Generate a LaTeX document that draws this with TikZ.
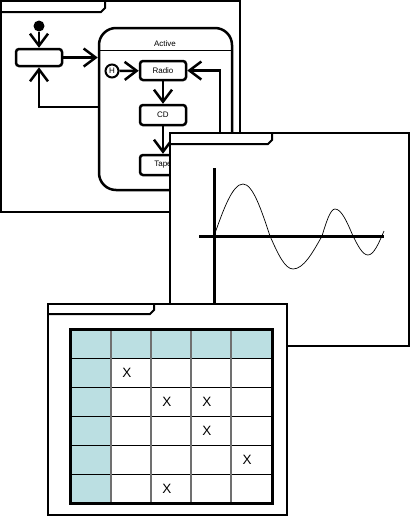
\documentclass[tikz,border=0pt]{standalone}
\usepackage{fontspec}
\setmainfont{Liberation Sans}
\usetikzlibrary{arrows.meta}
\definecolor{tealfill}{RGB}{187,223,226}
\definecolor{gridgray}{RGB}{112,112,112}
\begin{document}
\begin{tikzpicture}[x=1pt,y=-1pt,
  frame/.style={draw, line width=2pt, fill=white},
  tabline/.style={line width=2pt},
  statebox/.style={draw, line width=2.5pt, rounded corners=3pt, minimum width=46pt, minimum height=19pt, inner sep=0pt, font=\fontsize{8}{9}\selectfont},
  tr/.style={line width=2.5pt, -{Straight Barb[length=12pt,width=18pt]}},
  axis/.style={line width=3pt},
  wave/.style={line width=0.7pt},
  xmark/.style={font=\fontsize{13.5}{14}\selectfont, inner sep=0pt}
]
\useasboundingbox (0,0) rectangle (411,517);

% ---------- panel 1: state machine ----------
\draw[frame] (1,1) rectangle (240,212);
\draw[tabline] (1,12) -- (101,12) -- (105,8) -- (105,1);

\node[circle, fill=black, minimum size=11pt, inner sep=0pt] (init) at (39,26) {};
\node[statebox, minimum height=17pt] (idle) at (39,57.5) {};
\node[draw, line width=2.5pt, rounded corners=17pt, minimum width=133pt, minimum height=162pt, inner sep=0pt] (active) at (165.5,109) {};
\coordinate (dl) at (99,50);
\coordinate (dr) at (232,50);
\draw[line width=1pt] (dl) -- (dr);
\node[font=\fontsize{8}{9}\selectfont, inner sep=0pt] (activelbl) at (165,44) {Active};

\node[circle, draw, line width=2pt, minimum size=13pt, inner sep=0pt, font=\fontsize{8}{9}\selectfont] (hist) at (112,71) {H};
\node[statebox] (radio) at (163,70.5) {Radio};
\node[statebox, minimum height=20pt] (cd) at (163,115) {CD};
\node[statebox, minimum height=20pt] (tape) at (163,165) {Tape};

\draw[tr] (init) -- (idle);
\draw[tr] (idle.east) -- (idle.east -| active.west);
\coordinate (back) at (99,107);
\draw[tr] (back) -| (idle.south);
\draw[tr] (hist) -- (radio);
\draw[tr] (radio) -- (cd);
\draw[tr] (cd) -- (tape);
\coordinate (fb) at (220,165);
\draw[tr] (tape.east) -- (fb) |- (radio.east);

% ---------- panel 2: wave ----------
\draw[frame] (170,133) rectangle (409,346);
\draw[tabline] (170,144) -- (268,144) -- (272,140) -- (272,133);
\coordinate (ytop) at (214,168);
\coordinate (ybot) at (214,304);
\coordinate (xl) at (199,236);
\coordinate (xr) at (384,236);
\draw[axis] (ytop) -- (ybot);
\draw[axis] (xl) -- (xr);
\draw[wave] (214,236) sin (243,184) cos (270,236) sin (293,269) cos (322,236)
  sin (335,209) cos (353,236) sin (368,255) cos (384,231);

% ---------- panel 3: table ----------
\draw[frame] (48,304) rectangle (287,515);
\draw[tabline] (48,314) -- (150,314) -- (154,310) -- (154,304);

\fill[tealfill] (70,329) rectangle (272,358);
\fill[tealfill] (70,329) rectangle (111,503);
\foreach \yy in {358,387,416,445,474}
  \draw[line width=1pt] (70,\yy) -- (272,\yy);
\foreach \xx in {111,151,191,231}
  \draw[gridgray, line width=1.6pt] (\xx,329) -- (\xx,503);
\draw[line width=3pt] (70,329) rectangle (272,503);

\node[xmark] (m1) at (127,373) {X};
\node[xmark] (m2) at (167,402) {X};
\node[xmark] (m3) at (207,402) {X};
\node[xmark] (m4) at (207,431) {X};
\node[xmark] (m5) at (247,460) {X};
\node[xmark] (m6) at (167,489) {X};
\end{tikzpicture}
\end{document}
